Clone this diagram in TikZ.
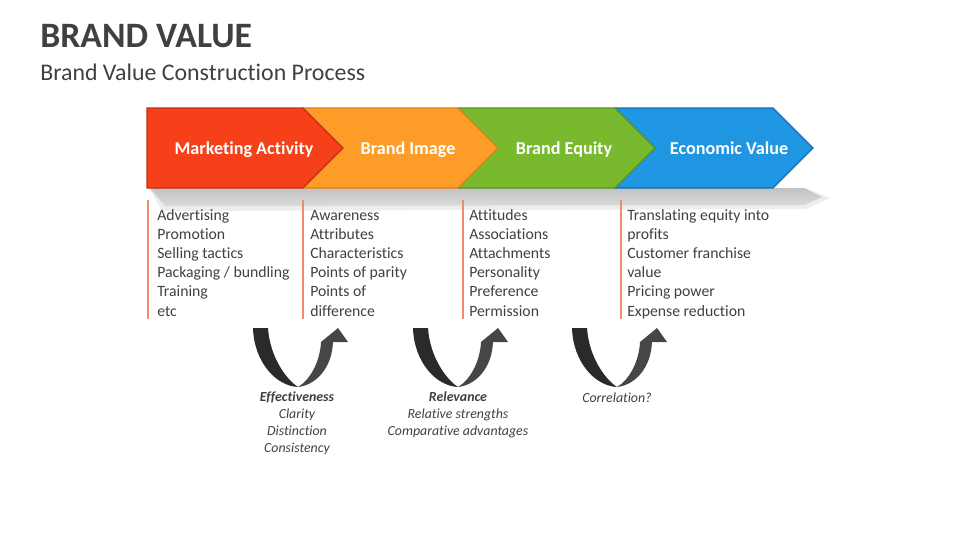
\documentclass[tikz,border=0pt]{standalone}
\usepackage{fontspec}
\setmainfont{Carlito}[Ligatures=NoCommon]
\usepackage{tikz}
\usetikzlibrary{calc}
\definecolor{stRed}{RGB}{246,64,26}
\definecolor{stRedD}{RGB}{196,48,18}
\definecolor{stOrange}{RGB}{253,157,40}
\definecolor{stOrangeD}{RGB}{222,128,20}
\definecolor{stGreen}{RGB}{120,185,45}
\definecolor{stGreenD}{RGB}{88,145,30}
\definecolor{stBlue}{RGB}{30,150,225}
\definecolor{stBlueD}{RGB}{20,110,180}
\definecolor{salmon}{RGB}{240,140,110}
\definecolor{inkgray}{RGB}{64,64,64}
\definecolor{arrowdark}{RGB}{42,42,42}
\definecolor{arrowlight}{RGB}{70,70,70}

\tikzset{
  stagelabel/.style={font=\bfseries\fontsize{13.6}{15}\selectfont, text=white, inner sep=0pt},
  item/.style={font=\fontsize{11.8}{14}\selectfont, text=inkgray, anchor=base west, inner sep=0pt},
  note/.style={font=\itshape\fontsize{10.4}{12}\selectfont, text=inkgray, anchor=base, inner sep=0pt},
}

\begin{document}
\begin{tikzpicture}[x=0.75pt, y=-0.75pt]
  \useasboundingbox (0,0) rectangle (960,540);

  % title
  \node[anchor=base west, inner sep=0pt, text=inkgray, font=\bfseries\fontsize{26.8}{30}\selectfont] (title) at (40,47) {BRAND VALUE};
  \node[anchor=base west, inner sep=0pt, text=inkgray, font=\fontsize{17.9}{20}\selectfont] (subtitle) at (40,80) {Brand Value Construction Process};

  % soft shadow under the chevrons
  \fill[black!7] (149,188) -- (806,188) -- (830,198) -- (806,209) -- (162,211) -- cycle;
  \shade[top color=black!24, bottom color=black!14] (150,188) -- (804,188) -- (822,197) -- (804,205) -- (165,206) -- cycle;

  % chevrons, drawn right to left so each point lies on the next one
  \def\depth{40}
  \foreach \L/\R/\fc/\dc in {615/773/stBlue/stBlueD, 458/615/stGreen/stGreenD,
                             303/458/stOrange/stOrangeD, 147/303/stRed/stRedD} {
    \filldraw[fill=\fc, draw=\dc, line width=1pt, line join=miter]
      (\L,108) -- (\R,108) -- (\R+\depth,148) -- (\R,188) -- (\L,188) -- cycle;
  }

  \node[stagelabel] (marketing) at (244,150) {Marketing Activity};
  \node[stagelabel] (image) at (408,150) {Brand Image};
  \node[stagelabel] (equity) at (564,150) {Brand Equity};
  \node[stagelabel] (economic) at (729,148) {Economic Value};

  % separators
  \foreach \x in {148,303,463,621} {
    \draw[salmon, line width=0.8pt] (\x,200) -- (\x,319);
  }

  % lists
  \def\lead{19.2}
  \foreach \t [count=\k] in {Advertising, Promotion, Selling tactics, Packaging / bundling, Training, etc}
    \node[item] (act\k) at (157,{220+\lead*(\k-1)}) {\t};
  \foreach \t [count=\k] in {Awareness, Attributes, Characteristics, Points of parity, Points of, difference}
    \node[item] (img\k) at (310,{220+\lead*(\k-1)}) {\t};
  \foreach \t [count=\k] in {Attitudes, Associations, Attachments, Personality, Preference, Permission}
    \node[item] (eq\k) at (469,{220+\lead*(\k-1)}) {\t};
  \foreach \t [count=\k] in {Translating equity into, profits, Customer franchise, value, Pricing power, Expense reduction}
    \node[item] (ev\k) at (627,{220+\lead*(\k-1)}) {\t};

  % curved arrows
  \foreach \dx in {0,160,319} {
    \begin{scope}[xshift=\dx*0.75pt]
      \fill[arrowdark] (253,328) .. controls (254,362) and (276,386) .. (298,387)
        .. controls (287,380) and (270,358) .. (268,328) -- cycle;
      \fill[arrowlight] (298,387) .. controls (316,385) and (332,368) .. (333,342)
        -- (348,342) -- (338,328) -- (321,342)
        .. controls (320,362) and (310,380) .. (298,387) -- cycle;
    \end{scope}
  }

  % notes
  \node[note, font=\bfseries\itshape\fontsize{10.4}{12}\selectfont] (eff) at (297,401) {Effectiveness};
  \node[note] (eff1) at (297,418) {Clarity};
  \node[note] (eff2) at (297,435) {Distinction};
  \node[note] (eff3) at (297,452) {Consistency};
  \node[note, font=\bfseries\itshape\fontsize{10.4}{12}\selectfont] (rel) at (458,401) {Relevance};
  \node[note] (rel1) at (458,418) {Relative strengths};
  \node[note] (rel2) at (458,435) {Comparative advantages};
  \node[note] (cor) at (617,402) {Correlation?};
\end{tikzpicture}
\end{document}
